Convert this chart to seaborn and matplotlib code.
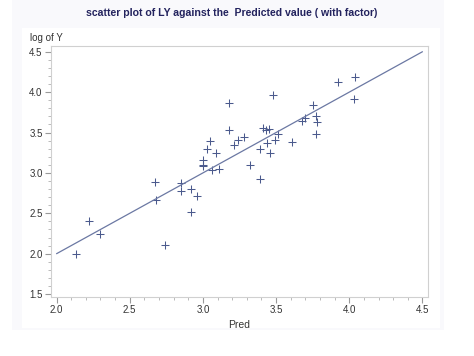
import matplotlib
matplotlib.use("Agg")
import matplotlib.pyplot as plt
from matplotlib.ticker import MultipleLocator
import seaborn as sns
import pandas as pd

title = "scatter plot of LY against the  Predicted value ( with factor)"
x_label = "Pred"
y_label = "log of Y"

pred = [2.13, 2.22, 2.30, 2.67, 2.68, 2.74, 2.85, 2.85, 2.92, 2.96, 2.92,
        3.00, 3.00, 3.00, 3.03, 3.05, 3.06, 3.09, 3.11, 3.18, 3.18, 3.21,
        3.24, 3.28, 3.32, 3.39, 3.39, 3.41, 3.43, 3.45, 3.44, 3.46, 3.49,
        3.48, 3.51, 3.61, 3.68, 3.70, 3.75, 3.77, 3.78, 3.77, 3.92, 4.04, 4.03]
logy = [2.00, 2.40, 2.25, 2.89, 2.66, 2.11, 2.88, 2.78, 2.80, 2.72, 2.51,
        3.16, 3.10, 3.08, 3.30, 3.39, 3.04, 3.25, 3.05, 3.86, 3.53, 3.34,
        3.41, 3.45, 3.10, 2.93, 3.30, 3.56, 3.53, 3.54, 3.37, 3.25, 3.41,
        3.96, 3.48, 3.38, 3.64, 3.68, 3.84, 3.70, 3.63, 3.48, 4.12, 4.19, 3.91]
ref_x = [2.0, 4.5]
ref_y = [2.0, 4.5]

df = pd.DataFrame({"Pred": pred, "LY": logy})
ref = pd.DataFrame({"x": ref_x, "y": ref_y})

sns.set_style("white")
plt.rcParams["font.family"] = ["Liberation Sans", "DejaVu Sans"]

fig = plt.figure(figsize=(4.74, 3.56), dpi=100)
fig.patch.set_facecolor("white")
# faint page panel
fig.patches.append(plt.Rectangle((12 / 474, 1 - 330 / 356), 432 / 474, 330 / 356,
                                 transform=fig.transFigure, facecolor="#f9f9fc",
                                 edgecolor="none", zorder=-2))
fig.patches.append(plt.Rectangle((22 / 474, 1 - 328 / 356), 418 / 474, 300 / 356,
                                 transform=fig.transFigure, facecolor="white",
                                 edgecolor="none", zorder=-1))

ax = fig.add_axes([51 / 474, 1 - 297 / 356, 377 / 474, 251 / 356])
ax.set_facecolor("white")

col = "#4b5a8d"
sns.lineplot(data=ref, x="x", y="y", ax=ax, color="#6b78a3", linewidth=0.9)
sns.scatterplot(data=df, x="Pred", y="LY", ax=ax, marker="+", s=28,
                color=col, linewidth=0.75)

ax.set_xlim(1.962, 4.538)
ax.set_ylim(1.464, 4.571)
ax.xaxis.set_major_locator(MultipleLocator(0.5))
ax.xaxis.set_minor_locator(MultipleLocator(0.1))
ax.yaxis.set_major_locator(MultipleLocator(0.5))
ax.yaxis.set_minor_locator(MultipleLocator(0.1))
ax.xaxis.set_major_formatter(matplotlib.ticker.FormatStrFormatter("%.1f"))
ax.yaxis.set_major_formatter(matplotlib.ticker.FormatStrFormatter("%.1f"))
ax.tick_params(axis="both", which="major", direction="out", length=4, width=0.8,
               color="#9a9a9a", labelsize=7, labelcolor="#333333", pad=2,
               bottom=True, left=True)
ax.tick_params(axis="both", which="minor", direction="out", length=2, width=0.6,
               color="#b0b0b0", bottom=True, left=True)
for s in ax.spines.values():
    s.set_color("#d0d0d0")
    s.set_linewidth(0.8)

ax.set_xlabel(x_label, fontsize=7.5, color="#333333", labelpad=3)
ax.set_ylabel("")
fig.text(30 / 474, 1 - 38 / 356, y_label, fontsize=7, color="#333333",
         ha="left", va="center")
fig.text(232 / 474, 1 - 13 / 356, title, fontsize=7.6, fontweight="bold",
         color="#23235e", ha="center", va="center")

fig.savefig("out.png", dpi=100)
